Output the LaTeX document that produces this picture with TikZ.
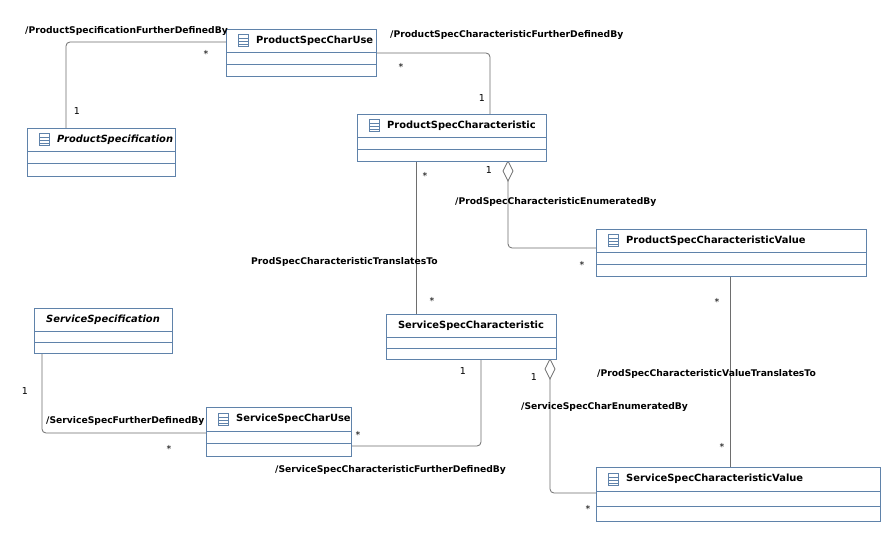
\documentclass[tikz,border=0pt]{standalone}
\usepackage{fontspec}
\setmainfont{DejaVu Sans}
\begin{document}
\begin{tikzpicture}[x=1pt,y=-1pt,
  bx/.style={draw=boxc,fill=white,line width=0.8pt},
  ln/.style={draw=linec,line width=0.8pt,rounded corners=4pt},
  lbl/.style={font=\fontsize{9.2}{10}\selectfont\bfseries,anchor=west,inner sep=0pt},
  ttl/.style={font=\fontsize{9.9}{11}\selectfont\bfseries,inner sep=0pt},
  mul/.style={font=\fontsize{9.5}{10}\selectfont,inner sep=0pt}]
\definecolor{boxc}{RGB}{95,130,170}
\definecolor{linec}{RGB}{110,110,110}
\useasboundingbox[fill=white] (0,0) rectangle (894,540);
\newcommand{\umlbox}[8]{% name x1 y1 x2 y2 title-row-bottom text icon(1/0)
  \draw[bx] (#2,#3) rectangle (#4,#5);
  \draw[draw=boxc,line width=0.8pt] (#2,#6) -- (#4,#6);
  \draw[draw=boxc,line width=0.8pt] (#2,{(#6+#5)/2}) -- (#4,{(#6+#5)/2});
  \coordinate (#1-nw) at (#2,#3);
  \ifnum#8=1
    \node[ttl,anchor=west] (#1) at ({#2+30},{(#3+#6)/2}) {#7};
    \draw[draw=boxc,line width=0.6pt] ({#2+12},{(#3+#6)/2-6}) rectangle ({#2+22},{(#3+#6)/2+6});
    \foreach \k in {-2,1,4} \draw[draw=boxc,line width=0.5pt] ({#2+12},{(#3+#6)/2+\k}) -- ({#2+22},{(#3+#6)/2+\k});
  \else
    \node[ttl] (#1) at ({(#2+#4)/2},{(#3+#6)/2}) {#7};
  \fi}
% connectors
\draw[ln] (66,128) -- (66,42) -- (226,42);
\draw[ln] (376,53) -- (490,53) -- (490,114);
\draw[ln] (416,161) -- (416,314);
\draw[ln] (508,181) -- (508,248) -- (596,248);
\draw[ln] (730,276) -- (730,467);
\draw[ln] (42,353) -- (42,433) -- (206,433);
\draw[ln] (351,446) -- (481,446) -- (481,359);
\draw[ln] (550,379) -- (550,493) -- (596,493);
\draw[draw=linec,fill=white,line width=0.7pt] (508,161) -- (503,171) -- (508,181) -- (513,171) -- cycle;
\draw[draw=linec,fill=white,line width=0.7pt] (550,359) -- (545,369) -- (550,379) -- (555,369) -- cycle;
% boxes
\umlbox{charuse}{226}{29}{376}{76}{52}{ProductSpecCharUse}{1}
\umlbox{ps}{27}{128}{175}{176}{151}{\itshape ProductSpecification}{1}
\umlbox{psc}{357}{114}{546}{161}{137}{ProductSpecCharacteristic}{1}
\umlbox{pscv}{596}{229}{866}{276}{252}{ProductSpecCharacteristicValue}{1}
\umlbox{ss}{34}{308}{172}{353}{331}{\itshape ServiceSpecification}{0}
\umlbox{ssc}{386}{314}{556}{359}{337}{ServiceSpecCharacteristic}{0}
\umlbox{sscu}{206}{407}{351}{456}{431}{ServiceSpecCharUse}{1}
\umlbox{sscv}{596}{467}{880}{521}{491}{ServiceSpecCharacteristicValue}{1}
% labels
\node[lbl] (l1) at (25,31) {/ProductSpecificationFurtherDefinedBy};
\node[lbl] (l2) at (390,35) {/ProductSpecCharacteristicFurtherDefinedBy};
\node[lbl] (l3) at (251,262) {ProdSpecCharacteristicTranslatesTo};
\node[lbl] (l4) at (455,202) {/ProdSpecCharacteristicEnumeratedBy};
\node[lbl] (l5) at (597,374) {/ProdSpecCharacteristicValueTranslatesTo};
\node[lbl] (l6) at (46,421) {/ServiceSpecFurtherDefinedBy};
\node[lbl] (l7) at (275,470) {/ServiceSpecCharacteristicFurtherDefinedBy};
\node[lbl] (l8) at (521,407) {/ServiceSpecCharEnumeratedBy};
% multiplicities
\node[mul] (m1) at (206,54) {*};
\node[mul] (m2) at (77,111) {1};
\node[mul] (m3) at (401,67) {*};
\node[mul] (m4) at (482,98) {1};
\node[mul] (m5) at (425,176) {*};
\node[mul] (m6) at (432,301) {*};
\node[mul] (m7) at (489,170) {1};
\node[mul] (m8) at (582,265) {*};
\node[mul] (m9) at (717,302) {*};
\node[mul] (m10) at (722,447) {*};
\node[mul] (m11) at (25,391) {1};
\node[mul] (m12) at (169,449) {*};
\node[mul] (m13) at (358,435) {*};
\node[mul] (m14) at (463,371) {1};
\node[mul] (m15) at (534,377) {1};
\node[mul] (m16) at (588,509) {*};
\end{tikzpicture}
\end{document}
